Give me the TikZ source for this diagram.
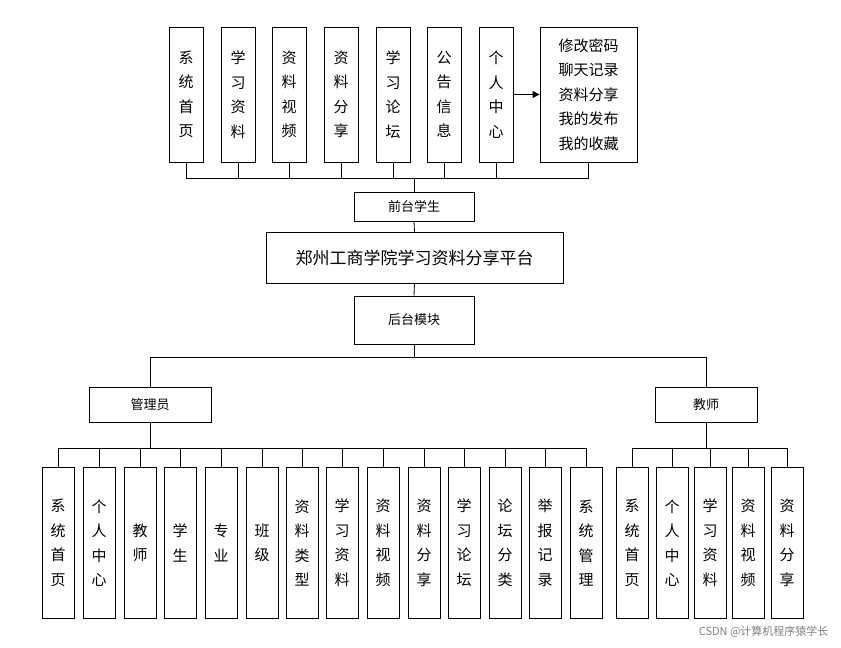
\documentclass[tikz,border=0pt]{standalone}
\usepackage{fontspec}
\newfontfamily\cjk{Noto Sans CJK SC}
\usetikzlibrary{arrows.meta}
\begin{document}
\begin{tikzpicture}[x=1pt,y=-1pt,
  bx/.style={draw,line width=0.8pt,font=\cjk\fontsize{15}{24.5}\selectfont,align=center,inner sep=0pt},
  ln/.style={line width=0.8pt}]
\useasboundingbox (0,0) rectangle (841,648);
% top row
\foreach \n/\x/\t in {t1/186/系\\统\\首\\页,t2/238/学\\习\\资\\料,t3/289/资\\料\\视\\频,t4/341/资\\料\\分\\享,t5/393/学\\习\\论\\坛,t6/444/公\\告\\信\\息,t7/496/个\\人\\中\\心}
  \node[bx,minimum width=34,minimum height=135] (\n) at (\x,94.5) {\t};
\node[bx,minimum width=97,minimum height=135] (big) at (588.5,94.5) {修改密码\\聊天记录\\资料分享\\我的发布\\我的收藏};
\draw[ln,-{Triangle[length=7,width=7]}] (t7.east) -- (big.west);
\node[bx,minimum width=120,minimum height=29] (fs) at (414,206.5) {\fontsize{13}{15}\selectfont 前台学生};
\node[bx,minimum width=297,minimum height=51] (main) at (414.5,257.5) {\fontsize{17}{20}\selectfont 郑州工商学院学习资料分享平台};
\node[bx,minimum width=120,minimum height=48] (hm) at (414,320) {\fontsize{13}{15}\selectfont 后台模块};
\coordinate (tb) at (414,178);
\foreach \n in {t1,t2,t3,t4,t5,t6,t7,big} \draw[ln] (\n.south) -- (\n.south |- tb);
\draw[ln] (t1.south |- tb) -- (big.south |- tb);
\draw[ln] (tb) -- (fs.north);
\draw[ln] (fs.south) -- (main.north);
\draw[ln] (main.south) -- (hm.north);
\node[bx,minimum width=122,minimum height=35] (gl) at (150,404.5) {\fontsize{13}{15}\selectfont 管理员};
\node[bx,minimum width=102,minimum height=35] (js) at (706,404.5) {\fontsize{13}{15}\selectfont 教师};
\coordinate (mb) at (414,357);
\draw[ln] (hm.south) -- (mb);
\draw[ln] (gl.north) -- (gl.north |- mb) -- (js.north |- mb) -- (js.north);
% admin row
\foreach \n/\x/\t in {a1/58/系\\统\\首\\页,a2/99/个\\人\\中\\心,a3/140/教\\师,a4/180/学\\生,a5/221/专\\业,a6/262/班\\级,a7/302/资\\料\\类\\型,a8/342/学\\习\\资\\料,a9/383/资\\料\\视\\频,a10/424/资\\料\\分\\享,a11/464/学\\习\\论\\坛,a12/505/论\\坛\\分\\类,a13/545/举\\报\\记\\录,a14/586/系\\统\\管\\理}
  \node[bx,minimum width=32,minimum height=151,anchor=north] (\n) at (\x,467) {\t};
\node[bx,draw=none] at (0,0) {};
\coordinate (ab) at (150,448);
\foreach \n in {a1,a2,a3,a4,a5,a6,a7,a8,a9,a10,a11,a12,a13,a14} \draw[ln] (\n.north) -- (\n.north |- ab);
\draw[ln] (a1.north |- ab) -- (a14.north |- ab);
\draw[ln] (gl.south) -- (ab);
% teacher row
\foreach \n/\x/\t in {b1/632/系\\统\\首\\页,b2/672/个\\人\\中\\心,b3/710/学\\习\\资\\料,b4/748/资\\料\\视\\频,b5/787/资\\料\\分\\享}
  \node[bx,minimum width=32,minimum height=151,anchor=north] (\n) at (\x,467) {\t};
\coordinate (bb) at (706,448);
\foreach \n in {b1,b2,b3,b4,b5} \draw[ln] (\n.north) -- (\n.north |- bb);
\draw[ln] (b1.north |- bb) -- (b5.north |- bb);
\draw[ln] (js.south) -- (bb);
\node[font=\cjk\fontsize{11}{13}\selectfont,text=gray,anchor=east] (wm) at (832,632) {CSDN @计算机程序猿学长};
\end{tikzpicture}
\end{document}
